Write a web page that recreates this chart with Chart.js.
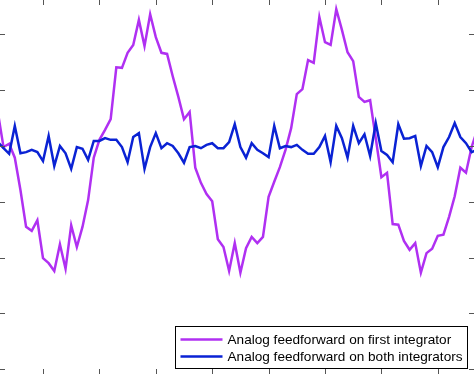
<!DOCTYPE html>
<html>
<head>
<meta charset="utf-8">
<script src="https://cdn.jsdelivr.net/npm/chart.js@4.4.1/dist/chart.umd.min.js"></script>
<style>
  html, body { margin: 0; padding: 0; background: #fff; }
  #wrap { width: 474px; height: 374px; }
</style>
</head>
<body>
<div id="wrap"><canvas id="plot"></canvas></div>
<script>
// sample index of the first value in each series
const firstSample = 2;

const seriesNames = [
  'Analog feedforward on first integrator',
  'Analog feedforward on both integrators'
];

// samples 2..87
const firstIntegrator = [
  0.60, -0.02, 0.04, -0.21, -0.79, -1.45, -1.52, -1.33, -2.01, -2.10,
  -2.24, -1.76, -2.20, -1.42, -1.81, -1.45, -0.97, -0.21, 0.11, 0.29,
  0.48, 1.41, 1.40, 1.67, 1.81, 2.26, 1.79, 2.36, 1.95, 1.67,
  1.65, 1.25, 0.88, 0.48, 0.61, -0.39, -0.66, -0.86, -0.99, -1.67,
  -1.81, -2.24, -1.74, -2.27, -1.83, -1.63, -1.74, -1.63, -0.91, -0.64,
  -0.38, -0.07, 0.32, 0.93, 1.02, 1.54, 1.49, 2.31, 1.86, 1.81,
  2.45, 2.08, 1.68, 1.52, 0.88, 0.79, 0.82, 0.14, -0.56, -0.48,
  -1.40, -1.41, -1.70, -1.86, -1.74, -2.27, -1.92, -1.84, -1.61, -1.59,
  -1.27, -0.90, -0.39, -0.48, -0.02, 0.29
];

const bothIntegrators = [
  0.07, -0.04, -0.14, 0.36, -0.13, -0.11, -0.07, -0.11, -0.27, 0.18,
  -0.36, 0.00, -0.13, -0.41, -0.02, -0.05, -0.25, 0.09, 0.09, 0.14,
  0.11, 0.11, -0.02, -0.29, 0.16, 0.23, -0.41, -0.02, 0.23, -0.04,
  0.05, 0.00, -0.13, -0.30, -0.02, 0.00, -0.04, 0.02, 0.05, -0.04,
  -0.04, 0.07, 0.39, -0.02, -0.21, 0.05, -0.07, -0.13, -0.20, 0.36,
  -0.04, 0.00, -0.02, 0.02, -0.07, -0.14, -0.14, -0.02, 0.18, -0.29,
  0.36, 0.14, -0.21, 0.36, 0.05, 0.21, -0.18, 0.41, -0.09, -0.16,
  -0.29, 0.39, 0.13, 0.14, 0.18, -0.36, 0.00, -0.11, -0.38, -0.02,
  0.16, 0.41, 0.16, 0.05, -0.11, -0.07
];

// tick marks (labels are cropped off in the original)
const xTicks = [10, 20, 30, 40, 50, 60, 70, 80];
const yTicks = [2, 1, 0, -1, -2, -3, -4];

const toPoints = arr => arr.map((v, i) => ({ x: firstSample + i, y: v }));

/* inward tick marks on all four sides, MATLAB style */
const boxTicks = {
  id: 'boxTicks',
  afterDraw(chart) {
    const { ctx, chartArea: a } = chart;
    const xs = chart.scales.x, ys = chart.scales.y;
    const len = 5;
    ctx.save();
    ctx.strokeStyle = '#555';
    ctx.lineWidth = 1;
    ctx.beginPath();
    xTicks.forEach(t => {
      const px = Math.round(xs.getPixelForValue(t)) + 0.5;
      ctx.moveTo(px, a.top); ctx.lineTo(px, a.top + len);
      ctx.moveTo(px, a.bottom); ctx.lineTo(px, a.bottom - len);
    });
    yTicks.forEach(t => {
      const py = Math.round(ys.getPixelForValue(t)) + 0.5;
      ctx.moveTo(a.left, py); ctx.lineTo(a.left + len, py);
      ctx.moveTo(a.right, py); ctx.lineTo(a.right - len, py);
    });
    ctx.stroke();
    ctx.restore();
  }
};

/* boxed legend in the lower right corner */
const boxLegend = {
  id: 'boxLegend',
  afterDraw(chart) {
    const ctx = chart.ctx;
    const sets = chart.data.datasets;
    const left = 175.5, top = 326.5, w = 292, h = 42;
    ctx.save();
    ctx.fillStyle = '#fff';
    ctx.fillRect(left, top, w, h);
    ctx.strokeStyle = '#000';
    ctx.lineWidth = 1;
    ctx.strokeRect(left, top, w, h);
    ctx.font = '13.6px "Liberation Sans", Arial, sans-serif';
    ctx.textBaseline = 'middle';
    ctx.fillStyle = '#000';
    sets.forEach((ds, i) => {
      const y = top + 13 + i * 17;
      ctx.strokeStyle = ds.borderColor;
      ctx.lineWidth = 2.5;
      ctx.beginPath();
      ctx.moveTo(left + 5, y);
      ctx.lineTo(left + 47, y);
      ctx.stroke();
      ctx.fillText(ds.label, left + 52, y + 1);
    });
    ctx.restore();
  }
};

new Chart(document.getElementById('plot'), {
  type: 'line',
  data: {
    datasets: [
      {
        label: seriesNames[0],
        data: toPoints(firstIntegrator),
        borderColor: '#b030f2',
        borderWidth: 2.5,
        pointRadius: 0,
        tension: 0,
        order: 2
      },
      {
        label: seriesNames[1],
        data: toPoints(bothIntegrators),
        borderColor: '#0a22d4',
        borderWidth: 2.5,
        pointRadius: 0,
        tension: 0,
        order: 1
      }
    ]
  },
  options: {
    responsive: true,
    maintainAspectRatio: false,
    animation: false,
    layout: { padding: 0 },
    scales: {
      x: { type: 'linear', display: false, min: 2.376, max: 86.42 },
      y: { type: 'linear', display: false, min: -4.086, max: 2.616 }
    },
    plugins: {
      legend: { display: false },
      tooltip: { enabled: false }
    }
  },
  plugins: [boxTicks, boxLegend]
});
</script>
</body>
</html>
